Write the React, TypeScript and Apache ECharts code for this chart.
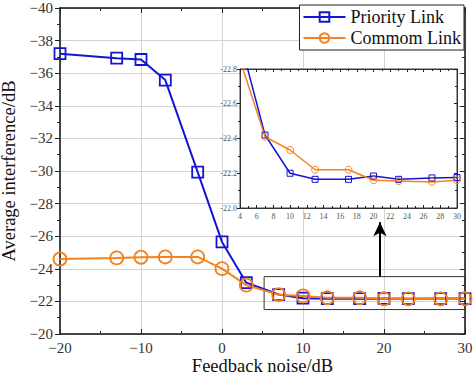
import React, { useEffect, useRef } from "react";
import * as echarts from "echarts";

const noiseX = [-20, -13, -10, -7, -3, 0, 3, 7, 10, 13, 17, 20, 23, 27, 30];
const priorityLink = [-37.2, -36.92, -36.84, -35.58, -29.93, -25.65, -23.15, -22.42, -22.2, -22.165, -22.165, -22.184, -22.165, -22.173, -22.175];
const commomLink = [-24.6, -24.67, -24.71, -24.73, -24.73, -24.01, -23.0, -22.41, -22.334, -22.22, -22.22, -22.16, -22.155, -22.15, -22.16];
const seriesNames = ["Priority Link", "Commom Link"];
const zoomBox = [[5.2, -23.52], [30, -21.5]];
const arrowFrom = [19.5, -23.52];
const arrowTo = [19.5, -26.85];

const BLUE = "#1414d4";
const ORANGE = "#f5821f";
const SERIF = "'Liberation Serif', 'Times New Roman', serif";

const minus = (v: number) => String(v).replace("-", "\u2212");

export default function App() {
  const ref = useRef<HTMLDivElement>(null);
  useEffect(() => {
    if (!ref.current) return;
    const chart = echarts.init(ref.current, null, { renderer: "svg" });
    const pts = (ys: number[]) => noiseX.map((x, i) => [x, ys[i]]);
    const tickLine = { lineStyle: { color: "#222", width: 1 } };
    chart.setOption({
      animation: false,
      backgroundColor: "#fff",
      legend: {
        data: seriesNames,
        orient: "vertical",
        right: 10,
        top: 5,
        padding: [3, 3, 3, 3],
        itemGap: 3,
        itemWidth: 42,
        itemHeight: 12,
        borderColor: "#222",
        borderWidth: 1,
        backgroundColor: "#fff",
        textStyle: { fontFamily: SERIF, fontSize: 18, color: "#111", padding: [0, 0, 0, 0] },
        z: 10,
      },
      grid: [
        { left: 60, top: 8, right: 9, bottom: 42, containLabel: false, outerBoundsMode: "none" },
        { left: 240, top: 69, width: 217, height: 139, containLabel: false, outerBoundsMode: "none", show: true, backgroundColor: "#fff", borderColor: "#444", borderWidth: 1, z: 3 },
      ],
      xAxis: [
        {
          gridIndex: 0, type: "value", position: "bottom", min: -20, max: 30, interval: 10,
          name: "Feedback noise/dB", nameLocation: "middle", nameGap: 23, nameMoveOverlap: false,
          nameTextStyle: { fontFamily: SERIF, fontSize: 18.5, lineHeight: 18, color: "#111" },
          axisLine: { onZero: false, lineStyle: { color: "#111", width: 1.5 } },
          axisTick: { inside: true, length: 5, ...tickLine },
          minorTick: { show: true, splitNumber: 2, length: 3, ...tickLine },
          axisLabel: { fontFamily: SERIF, fontSize: 15, color: "#333", margin: 6, formatter: minus },
          splitLine: { show: true, lineStyle: { color: "#d4d4d4", width: 1 } },
        },
        {
          gridIndex: 0, type: "value", position: "top", min: -20, max: 30, interval: 10,
          axisLine: { show: true, onZero: false, lineStyle: { color: "#111", width: 1.5 } },
          axisTick: { show: true, inside: true, length: 5, ...tickLine },
          minorTick: { show: true, splitNumber: 2, length: 3, ...tickLine },
          axisLabel: { show: false },
          splitLine: { show: false },
        },
        {
          gridIndex: 1, type: "value", position: "bottom", min: 4, max: 30, interval: 2, z: 4,
          axisLine: { onZero: false, lineStyle: { color: "#333", width: 1 } },
          axisTick: { inside: true, length: 3, ...tickLine },
          minorTick: { show: true, splitNumber: 2, length: 2, ...tickLine },
          axisLabel: { fontFamily: SERIF, fontSize: 8, color: "#555", margin: 4 },
          splitLine: { show: false },
        },
        {
          gridIndex: 1, type: "value", position: "top", min: 4, max: 30, interval: 2, z: 4,
          axisLine: { show: true, onZero: false, lineStyle: { color: "#333", width: 1 } },
          axisTick: { show: true, inside: true, length: 3, ...tickLine },
          minorTick: { show: true, splitNumber: 2, length: 2, ...tickLine },
          axisLabel: { show: false },
          splitLine: { show: false },
        },
      ],
      yAxis: [
        {
          gridIndex: 0, type: "value", position: "left", inverse: true, min: -40, max: -20, interval: 2,
          name: "Average interference/dB", nameLocation: "middle", nameGap: 36,
          nameTextStyle: { fontFamily: SERIF, fontSize: 18.5, color: "#111" },
          axisLine: { onZero: false, lineStyle: { color: "#111", width: 1.5 } },
          axisTick: { inside: false, length: 5, ...tickLine },
          minorTick: { show: true, splitNumber: 2, length: 3, ...tickLine },
          axisLabel: { fontFamily: SERIF, fontSize: 15, color: "#333", margin: 7, formatter: minus },
          splitLine: { show: true, lineStyle: { color: "#d4d4d4", width: 1 } },
        },
        {
          gridIndex: 0, type: "value", position: "right", inverse: true, min: -40, max: -20, interval: 2,
          axisLine: { show: true, onZero: false, lineStyle: { color: "#111", width: 1.5 } },
          axisTick: { show: true, inside: true, length: 5, ...tickLine },
          minorTick: { show: true, splitNumber: 2, length: 3, ...tickLine },
          axisLabel: { show: false },
          splitLine: { show: false },
        },
        {
          gridIndex: 1, type: "value", position: "left", inverse: true, min: -22.8, max: -22.0, interval: 0.2, z: 4,
          axisLine: { show: true, onZero: false, lineStyle: { color: "#333", width: 1 } },
          axisTick: { show: true, inside: false, length: 3, ...tickLine },
          minorTick: { show: true, splitNumber: 2, length: 2, ...tickLine },
          axisLabel: { fontFamily: SERIF, fontSize: 8, color: "#555", margin: 3, formatter: (v: number) => v.toFixed(1) },
          splitLine: { show: false },
        },
        {
          gridIndex: 1, type: "value", position: "right", inverse: true, min: -22.8, max: -22.0, interval: 0.2, z: 4,
          axisLine: { show: true, onZero: false, lineStyle: { color: "#333", width: 1 } },
          axisTick: { show: true, inside: true, length: 3, ...tickLine },
          minorTick: { show: true, splitNumber: 2, length: 2, ...tickLine },
          axisLabel: { show: false },
          splitLine: { show: false },
        },
      ],
      series: [
        {
          name: seriesNames[0], type: "line", xAxisIndex: 0, yAxisIndex: 0,
          data: pts(priorityLink), symbol: "rect", symbolSize: 11, showAllSymbol: true,
          lineStyle: { color: BLUE, width: 2 },
          itemStyle: { color: "rgba(255,255,255,0)", borderColor: BLUE, borderWidth: 1.8 },
          emphasis: { disabled: true },
          markArea: {
            silent: true,
            itemStyle: { color: "rgba(0,0,0,0)", borderColor: "#333", borderWidth: 1 },
            data: [[{ coord: zoomBox[0] }, { coord: zoomBox[1] }]],
          },
          markLine: {
            silent: true,
            symbol: ["none", "arrow"],
            symbolSize: [10, 14],
            label: { show: false },
            lineStyle: { color: "#000", width: 2, type: "solid" },
            data: [[{ coord: arrowFrom }, { coord: arrowTo }]],
          },
        },
        {
          name: seriesNames[1], type: "line", xAxisIndex: 0, yAxisIndex: 0,
          data: pts(commomLink), symbol: "circle", symbolSize: 13, showAllSymbol: true,
          lineStyle: { color: ORANGE, width: 2 },
          itemStyle: { color: "rgba(255,255,255,0)", borderColor: ORANGE, borderWidth: 1.8 },
          emphasis: { disabled: true },
        },
        {
          name: seriesNames[0], type: "line", xAxisIndex: 2, yAxisIndex: 2, z: 5, clip: true,
          data: pts(priorityLink), symbol: "rect", symbolSize: 6, showAllSymbol: true,
          lineStyle: { color: BLUE, width: 1.5 },
          itemStyle: { color: "rgba(255,255,255,0)", borderColor: BLUE, borderWidth: 1 },
          emphasis: { disabled: true },
        },
        {
          name: seriesNames[1], type: "line", xAxisIndex: 2, yAxisIndex: 2, z: 5, clip: true,
          data: pts(commomLink), symbol: "circle", symbolSize: 7, showAllSymbol: true,
          lineStyle: { color: ORANGE, width: 1.5 },
          itemStyle: { color: "rgba(255,255,255,0)", borderColor: ORANGE, borderWidth: 1 },
          emphasis: { disabled: true },
        },
      ],
    });
    return () => chart.dispose();
  }, []);
  return <div ref={ref} style={{ width: 474, height: 376, position: "absolute", left: 0, top: 0 }} />;
}
